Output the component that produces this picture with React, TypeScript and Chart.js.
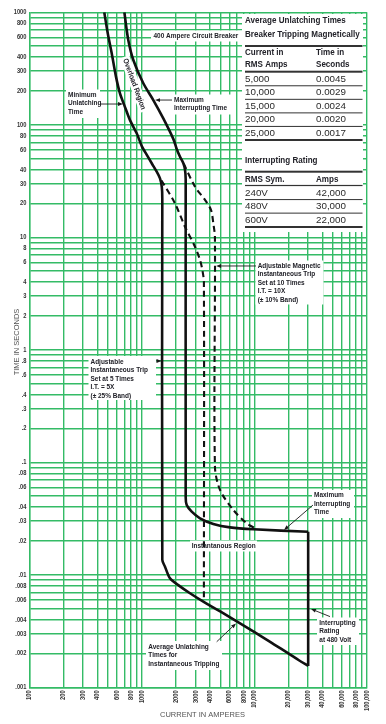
import React, { useEffect, useRef } from 'react';
import { Chart, registerables } from 'chart.js';

Chart.register(...registerables);

// ---------------- data (current in amperes, time in seconds) ----------------
const minUnlatchingCurrent = [462, 496, 538, 587, 637, 692, 782, 897, 1000, 1080, 1220, 1351, 1445, 1500, 1515, 1515, 1601, 1774, 2102, 2671, 3508, 5000, 10000, 15000, 20000, 25000, 30000];
const minUnlatchingSeconds = [1000, 650, 432, 268, 190, 152, 110, 84, 64, 56, 45.5, 38.3, 33.4, 28, 22, 0.0136, 0.0118, 0.0093, 0.0081, 0.00685, 0.00577, 0.0047, 0.0031, 0.0024, 0.002, 0.00173, 0.00155];

const maxInterruptCurrent = [697, 755, 837, 1027, 1260, 1546, 1897, 2034, 2177, 2330, 2410, 2445, 2445, 2496, 2766, 3277, 4305, 6057, 9800, 30000];
const maxInterruptSeconds = [1000, 567, 377, 234, 166, 114, 75, 61, 52, 45.5, 40, 33, 0.049, 0.0417, 0.0364, 0.0318, 0.0283, 0.0264, 0.0254, 0.0241];

const ratingCurrent = [30000, 30000];
const ratingSeconds = [0.00155, 0.0241];

const trip10xLowCurrent = [1490, 1965, 2412, 2958, 3279, 3440, 3550, 3550];
const trip10xLowSeconds = [32, 20, 12.4, 8.25, 6.28, 5.12, 4.0, 0.00575];

const trip10xHighCurrent = [2350, 2958, 3631, 4104, 4305, 4450, 4450, 4936, 6480, 8525, 10400];
const trip10xHighSeconds = [45, 28.2, 21.5, 17.5, 13.3, 10, 0.0914, 0.0568, 0.0377, 0.0287, 0.0256];

// table
const unlatchCurrentRows = ['5,000', '10,000', '15,000', '20,000', '25,000'];
const unlatchTimeRows = ['0.0045', '0.0029', '0.0024', '0.0020', '0.0017'];
const ratingVoltRows = ['240V', '480V', '600V'];
const ratingAmpRows = ['42,000', '30,000', '22,000'];

// tick labels
const xTickValues = [100, 200, 300, 400, 600, 800, 1000, 2000, 3000, 4000, 6000, 8000, 10000, 20000, 30000, 40000, 60000, 80000, 100000];
const xTickLabels = ['100', '200', '300', '400', '600', '800', '1000', '2000', '3000', '4000', '6000', '8000', '10,000', '20,000', '30,000', '40,000', '60,000', '80,000', '100,000'];
const yTickValues = [1000, 800, 600, 400, 300, 200, 100, 80, 60, 40, 30, 20, 10, 8, 6, 4, 3, 2, 1, 0.8, 0.6, 0.4, 0.3, 0.2, 0.1, 0.08, 0.06, 0.04, 0.03, 0.02, 0.01, 0.008, 0.006, 0.004, 0.003, 0.002, 0.001];
const yTickLabels = ['1000', '800', '600', '400', '300', '200', '100', '80', '60', '40', '30', '20', '10', '8', '6', '4', '3', '2', '1', '.8', '.6', '.4', '.3', '.2', '.1', '.08', '.06', '.04', '.03', '.02', '.01', '.008', '.006', '.004', '.003', '.002', '.001'];

// ---------------- styling ----------------
const GRID = '#34bb66';
const INK = '#222229';
const SANS = "'Liberation Sans', Arial, sans-serif";

const decadeGrid = (from: number, to: number) => {
  const out: number[] = [];
  for (let e = from; e < to; e++) for (let m = 1; m <= 9; m++) out.push(Number((m * Math.pow(10, e)).toPrecision(3)));
  out.push(Number(Math.pow(10, to).toPrecision(3)));
  return out;
};
const xGrid = decadeGrid(2, 5);
const yGrid = decadeGrid(-3, 3);

const toPoints = (xs: number[], ys: number[]) => xs.map((x, i) => ({ x, y: ys[i] }));

// annotation layout (pixels)
type Note = { lines: string[]; x: number; y: number; box: [number, number, number, number] };
const notes: Note[] = [
  { lines: ['400 Ampere Circuit Breaker'], x: 153.5, y: 36, box: [151, 30.5, 91, 11] },
  { lines: ['Minimum', 'Unlatching', 'Time'], x: 68, y: 95, box: [66, 89.5, 34, 28.5] },
  { lines: ['Maximum', 'Interrupting Time'], x: 174, y: 100, box: [171.5, 94.5, 61, 20] },
  { lines: ['Adjustable Magnetic', 'Instantaneous Trip', 'Set at 10 Times', 'I.T. = 10X', '(± 10% Band)'], x: 257.7, y: 266, box: [255.5, 260.5, 68, 44] },
  { lines: ['Adjustable', 'Instantaneous Trip', 'Set at 5 Times', 'I.T. = 5X', '(± 25% Band)'], x: 90.5, y: 361.7, box: [88.5, 356, 67.5, 44] },
  { lines: ['Maximum', 'Interrupting', 'Time'], x: 314, y: 495.5, box: [312, 490, 42, 28] },
  { lines: ['Instantanous Region'], x: 191.7, y: 545.7, box: [190, 540.5, 67, 11] },
  { lines: ['Average Unlatching', 'Times for', 'Instantaneous Tripping'], x: 148.3, y: 646.7, box: [146, 641, 76, 29] },
  { lines: ['Interrupting', 'Rating', 'at 480 Volt'], x: 319.3, y: 622.7, box: [317, 617.5, 42, 27.5] },
];
const LINE_H = 8.5;

// arrows in data coordinates [current, seconds]
const arrows: { from: [number, number]; to: [number, number] }[] = [
  { from: [423, 153], to: [678, 153] },
  { from: [1848, 166], to: [1305, 166] },
  { from: [10310, 5.56], to: [4560, 5.56] },
  { from: [1340, 0.795], to: [1490, 0.795] },
  { from: [33100, 0.0417], to: [18300, 0.025] },
  { from: [4613, 0.00254], to: [6850, 0.0037] },
  { from: [46900, 0.00425], to: [31800, 0.00497] },
];

// condensed text: Liberation Sans squeezed horizontally to imitate a narrow face
function ntext(
  ctx: CanvasRenderingContext2D, s: string, x: number, y: number, size: number,
  opts: { bold?: boolean; sx?: number; align?: CanvasTextAlign; color?: string; rot?: number } = {},
) {
  const { bold = true, sx = 0.86, align = 'left', color = INK, rot = 0 } = opts;
  ctx.save();
  ctx.translate(x, y);
  if (rot) ctx.rotate(rot);
  ctx.scale(sx, 1);
  ctx.font = `${bold ? 'bold ' : ''}${size}px ${SANS}`;
  ctx.fillStyle = color;
  ctx.textAlign = align;
  ctx.textBaseline = 'middle';
  ctx.fillText(s, 0, 0);
  ctx.restore();
}

const overlayPlugin = {
  id: 'overlay',
  beforeDatasetsDraw(chart: any) {
    const ctx: CanvasRenderingContext2D = chart.ctx;
    ctx.save();
    ctx.fillStyle = '#ffffff';
    ctx.fillRect(242, 14, 121, 218);
    for (const n of notes) ctx.fillRect(n.box[0], n.box[1], n.box[2], n.box[3]);
    ctx.translate(134.5, 84);
    ctx.rotate((70 * Math.PI) / 180);
    ctx.fillRect(-29, -4.8, 58, 9.6);
    ctx.restore();
  },
  afterDatasetsDraw(chart: any) {
    const ctx: CanvasRenderingContext2D = chart.ctx;
    const xs = chart.scales.x;
    const ys = chart.scales.y;
    const area = chart.chartArea;
    ctx.save();

    // tick labels
    xTickValues.forEach((v, i) => {
      ntext(ctx, xTickLabels[i], xs.getPixelForValue(v), area.bottom + 3, 7, { sx: 0.82, align: 'right', rot: -Math.PI / 2, color: '#333' });
    });
    yTickValues.forEach((v, i) => {
      ntext(ctx, yTickLabels[i], area.left - 3, ys.getPixelForValue(v), 7, { sx: 0.82, align: 'right', color: '#333' });
    });

    // notes
    for (const n of notes) {
      n.lines.forEach((l, i) => ntext(ctx, l, n.x, n.y + i * LINE_H, 7.2, { sx: 0.9 }));
    }
    ctx.save();
    ctx.translate(134.5, 84);
    ctx.rotate((70 * Math.PI) / 180);
    ntext(ctx, 'Overload Region', 0, 0.3, 7.5, { sx: 0.9, align: 'center' });
    ctx.restore();

    // arrows
    ctx.strokeStyle = '#1a1a1a';
    ctx.fillStyle = '#1a1a1a';
    ctx.lineWidth = 0.9;
    for (const a of arrows) {
      const x1 = xs.getPixelForValue(a.from[0]);
      const y1 = ys.getPixelForValue(a.from[1]);
      const x2 = xs.getPixelForValue(a.to[0]);
      const y2 = ys.getPixelForValue(a.to[1]);
      const ang = Math.atan2(y2 - y1, x2 - x1);
      const hl = 5, hw = 1.9;
      const bx = x2 - hl * Math.cos(ang);
      const by = y2 - hl * Math.sin(ang);
      ctx.beginPath();
      ctx.moveTo(x1, y1);
      ctx.lineTo(bx, by);
      ctx.stroke();
      ctx.beginPath();
      ctx.moveTo(x2, y2);
      ctx.lineTo(bx + hw * Math.sin(ang), by - hw * Math.cos(ang));
      ctx.lineTo(bx - hw * Math.sin(ang), by + hw * Math.cos(ang));
      ctx.closePath();
      ctx.fill();
    }

    // table
    const H = 9.6, HSX = 0.84, R = 9.8;
    const c1 = 245, c2 = 316, rEnd = 362.5;
    const head = (s: string, x: number, y: number) => ntext(ctx, s, x, y, H, { sx: HSX });
    const cell = (s: string, x: number, y: number) => ntext(ctx, s, x, y, R, { bold: false, sx: 1, color: '#2a2a2a' });
    const rule = (y: number, w: number) => {
      ctx.fillStyle = '#333';
      ctx.fillRect(c1, y - w / 2, rEnd - c1, w);
    };
    head('Average Unlatching Times', c1, 20.5);
    head('Breaker Tripping Magnetically', c1, 34.5);
    rule(46, 2);
    head('Current in', c1, 52.5);
    head('RMS Amps', c1, 64);
    head('Time in', c2, 52.5);
    head('Seconds', c2, 64);
    rule(71.7, 2);
    const rowH = 13.55;
    unlatchCurrentRows.forEach((c, i) => {
      const cy = 79 + i * rowH;
      cell(c, c1, cy);
      cell(unlatchTimeRows[i], c2, cy);
      if (i < unlatchCurrentRows.length - 1) rule(cy + rowH / 2, 1);
    });
    rule(140, 2);
    head('Interrupting Rating', c1, 160);
    rule(171.7, 2);
    head('RMS Sym.', c1, 179);
    head('Amps', c2, 179);
    rule(185.5, 1.2);
    ratingVoltRows.forEach((v, i) => {
      const cy = 192.8 + i * rowH;
      cell(v, c1, cy);
      cell(ratingAmpRows[i], c2, cy);
      if (i < ratingVoltRows.length - 1) rule(cy + rowH / 2, 1);
    });
    rule(227, 2);

    // axis titles
    ntext(ctx, 'CURRENT IN AMPERES', 202.5, 715, 7.5, { bold: false, sx: 1, align: 'center', color: '#555' });
    ntext(ctx, 'TIME IN SECONDS', 16.7, 342, 7.5, { bold: false, sx: 1, align: 'center', color: '#555', rot: -Math.PI / 2 });
    ctx.restore();
  },
};

export default function App() {
  const ref = useRef<HTMLCanvasElement | null>(null);
  useEffect(() => {
    document.body.style.margin = '0';
    const canvas = ref.current;
    if (!canvas) return;
    const solid = { borderColor: '#111', borderWidth: 2.6, pointRadius: 0, showLine: true, tension: 0.3, fill: false };
    const dashed = { borderColor: '#111', borderWidth: 2.1, borderDash: [6, 4], pointRadius: 0, showLine: true, tension: 0.3, fill: false };
    const chart = new Chart(canvas, {
      type: 'scatter',
      data: {
        datasets: [
          { label: 'Minimum Unlatching Time', data: toPoints(minUnlatchingCurrent, minUnlatchingSeconds), ...solid },
          { label: 'Maximum Interrupting Time', data: toPoints(maxInterruptCurrent, maxInterruptSeconds), ...solid },
          { label: 'Interrupting Rating at 480 Volt', data: toPoints(ratingCurrent, ratingSeconds), ...solid, tension: 0 },
          { label: 'Magnetic Trip 10X low', data: toPoints(trip10xLowCurrent, trip10xLowSeconds), ...dashed },
          { label: 'Magnetic Trip 10X high', data: toPoints(trip10xHighCurrent, trip10xHighSeconds), ...dashed },
        ],
      },
      options: {
        animation: false,
        responsive: false,
        maintainAspectRatio: false,
        layout: { padding: { top: 12.3, right: 19, left: 0, bottom: 0 } },
        plugins: { legend: { display: false }, tooltip: { enabled: false } },
        scales: {
          x: {
            type: 'logarithmic',
            position: 'bottom',
            min: 100,
            max: 100000,
            afterBuildTicks: (s: any) => { s.ticks = xGrid.map((v) => ({ value: v })); },
            afterFit: (s: any) => { s.height = 36.7; },
            grid: { color: GRID, lineWidth: 1.4, drawTicks: false },
            border: { color: GRID, width: 1.4 },
            ticks: { display: false },
          },
          y: {
            type: 'logarithmic',
            position: 'left',
            min: 0.001,
            max: 1000,
            afterBuildTicks: (s: any) => { s.ticks = yGrid.map((v) => ({ value: v })); },
            afterFit: (s: any) => { s.width = 29.5; },
            grid: { color: GRID, lineWidth: 1.4, drawTicks: false },
            border: { color: GRID, width: 1.4 },
            ticks: { display: false },
          },
        },
      } as any,
      plugins: [overlayPlugin],
    });
    return () => chart.destroy();
  }, []);
  return (
    <div style={{ width: 386, height: 724, position: 'relative', background: '#fff' }}>
      <canvas ref={ref} width={386} height={724} style={{ display: 'block', width: 386, height: 724 }} />
    </div>
  );
}
